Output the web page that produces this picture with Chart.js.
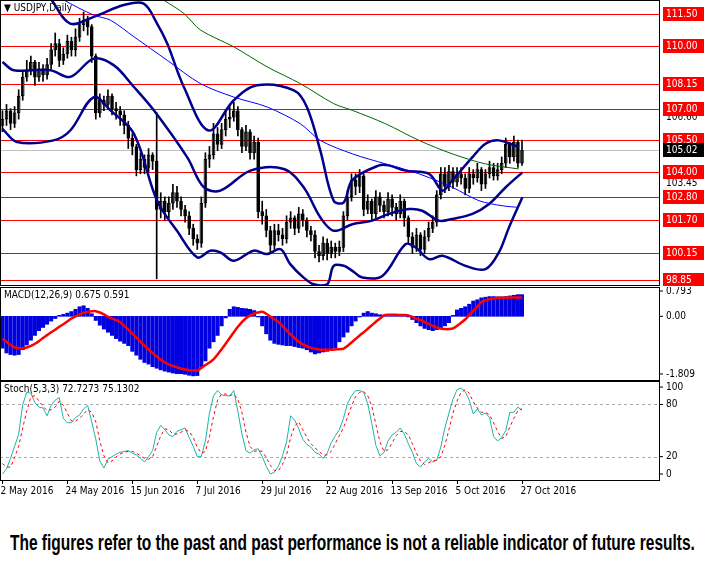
<!DOCTYPE html>
<html>
<head>
<meta charset="utf-8">
<script src="https://cdn.jsdelivr.net/npm/chart.js@4"></script>
<style>
body { margin: 0; background: #fff; width: 704px; height: 583px; overflow: hidden; font-family: "DejaVu Sans", sans-serif; }
.pane { position: absolute; left: 0; width: 704px; }
#foot { position: absolute; left: 10px; top: 530px; white-space: nowrap; transform-origin: 0 0; font: bold 22px "Liberation Sans", Arial, sans-serif; }
</style>
</head>
<body>
<div class="pane" style="top:0;height:286px"><canvas id="mainChart"></canvas></div>
<div class="pane" style="top:287px;height:94px"><canvas id="macdChart"></canvas></div>
<div class="pane" style="top:381px;height:120px"><canvas id="stochChart"></canvas></div>
<div id="foot">The figures refer to the past and past performance is not a reliable indicator of future results.</div>
<script>
// Daily USDJPY bars, index 0 = 2 May 2016
const closes = [106.5,106.9,106.3,106.8,107.6,108.5,108.8,109.2,108.5,108.9,
108.6,109.1,109.8,110.1,109.3,109.6,110.2,109.8,110.4,111.0,
111.2,110.9,109.5,106.8,107.4,107.2,107.6,107.0,106.9,106.7,
106.2,105.6,105.2,104.1,104.6,104.2,104.8,104.5,102.2,102.6,
102.1,102.5,103.0,102.6,102.2,101.9,101.3,100.8,100.6,102.5,
104.6,104.8,105.8,105.3,106.0,106.5,106.6,106.9,106.0,105.2,
105.9,104.9,105.4,102.1,101.9,101.2,100.5,101.2,101.0,100.8,
101.6,101.8,101.3,102.0,101.7,101.2,101.0,100.2,100.0,100.6,
100.1,100.4,100.2,100.4,101.9,102.8,103.6,103.3,103.8,102.2,
102.6,102.0,102.8,102.4,102.1,102.7,102.3,102.0,102.6,101.8,
100.9,100.4,101.0,100.3,100.9,101.3,101.6,102.9,103.9,103.3,
104.0,103.5,103.9,103.7,103.2,103.9,103.7,104.1,103.4,103.9,
104.2,103.8,104.1,104.4,105.3,104.7,105.4,104.4,105.02];
const highs = [106.9,107.2,107.0,107.1,107.9,108.8,109.3,109.5,109.3,109.2,
109.1,109.4,110.1,110.6,110.3,109.9,110.5,110.4,110.8,111.3,
111.6,111.4,111.0,109.6,107.7,107.6,107.9,107.7,107.3,107.1,
106.9,106.4,105.8,105.3,104.9,104.8,105.1,104.9,106.8,103.0,
102.8,102.8,103.4,103.3,102.8,102.4,102.1,101.5,101.0,102.8,
104.9,105.2,106.3,106.1,106.3,106.9,107.1,107.3,107.1,106.1,
106.2,106.0,105.7,105.6,102.6,102.2,101.4,101.5,101.5,101.3,
101.9,102.1,101.9,102.3,102.2,101.8,101.4,101.2,100.5,100.9,
100.8,100.7,100.6,100.7,102.1,103.1,103.9,103.9,104.1,103.9,
102.9,102.7,103.1,103.0,102.6,103.0,102.9,102.5,102.9,102.7,
101.9,101.1,101.3,101.1,101.2,101.6,101.9,103.1,104.2,104.2,
104.3,104.2,104.2,104.2,103.9,104.2,104.1,104.4,104.2,104.1,
104.5,104.4,104.4,104.7,105.6,105.4,105.7,105.5,105.5];
const lows = [105.9,106.2,106.0,106.1,106.5,107.4,108.3,108.6,108.1,108.3,
108.3,108.4,108.9,109.5,109.0,109.1,109.4,109.5,109.5,110.2,
110.7,110.5,109.2,106.5,106.6,106.9,107.0,106.7,106.5,106.2,
105.8,105.1,104.8,103.8,103.9,103.9,104.0,104.1,98.9,101.8,
101.7,101.8,102.2,102.3,101.9,101.6,101.0,100.5,100.3,100.4,
102.3,104.2,104.6,105.0,105.1,105.7,106.1,106.4,105.7,104.9,
105.0,104.6,104.6,101.8,101.5,100.9,100.2,100.3,100.7,100.5,
100.6,101.3,101.0,101.1,101.4,100.9,100.7,99.9,99.7,99.8,
99.8,99.9,99.9,100.0,100.2,101.7,102.6,102.9,103.0,101.9,
102.0,101.7,101.8,102.1,101.8,101.9,101.9,101.7,101.8,101.4,
100.6,100.1,100.2,100.0,100.1,100.7,101.1,101.4,102.7,103.0,
103.1,103.2,103.3,103.4,102.9,103.0,103.4,103.5,103.1,103.2,
103.7,103.6,103.6,103.9,104.2,104.4,104.5,104.2,104.3];
const firstOpen = 106.2;

// Bollinger bands and moving averages: [bar index, price]
const bbUpper = [[12,112.2],[16.7,111.05],[22.5,111.37],[29.9,111.93],[34.8,112.0],[38.1,111.05],[40.6,110.1],[44.7,108.03],[50.8,105.96],[57,107.4],[62.7,108.11],[71.8,107.87],[75,107.08],[78.3,105.01],[81.6,102.62],[84.1,102.54],[86.2,103.6],[92.8,104.3],[95.2,104.3],[99.3,104.05],[105.1,103.9],[108.4,103.1],[110.8,103.58],[115.8,104.69],[119,105.33],[122.3,105.49],[127.2,105.17]];
const bbMiddle = [[0,109.22],[2.8,108.83],[11.8,108.83],[16.7,108.51],[22.5,109.38],[27.4,109.07],[32.4,108.03],[37.3,106.92],[45.5,104.69],[49.6,103.26],[53.7,103.1],[61.1,104.05],[69.3,104.13],[74.2,103.26],[78.3,101.83],[81.6,101.19],[86.2,101.5],[91.1,101.67],[95.2,101.99],[100.2,102.22],[103.4,102.14],[107.5,101.67],[110.8,101.75],[115.8,101.99],[119.9,102.46],[124,103.26],[128.1,103.97]];
const bbLower = [[0,106.04],[3.6,105.41],[12.6,105.49],[16.7,105.96],[22.5,107.55],[26.6,106.92],[32.4,105.8],[38.1,102.62],[43,101.19],[48,99.92],[51.2,100.24],[53.7,100.16],[57,99.76],[61.9,100.24],[65.2,100.08],[68.5,100.31],[70.9,99.6],[74.2,98.96],[76.7,98.64],[80,98.64],[81.6,99.52],[84.1,99.52],[86.2,99.28],[88.7,98.96],[93.6,99.04],[99.3,100.55],[101.8,100.39],[105.1,99.84],[108.4,100.0],[114.1,99.52],[119,99.36],[122.3,100.16],[124.8,101.35],[128.1,102.78]];
const maBlue = [[10,112.8],[15.1,112.17],[22.5,111.45],[26.6,111.21],[32.4,110.42],[40.6,109.3],[48.8,108.19],[57,107.55],[65.2,107.08],[73.4,106.28],[78.3,105.49],[86.2,104.85],[94.4,104.37],[102.6,103.9],[110.8,103.26],[117.4,102.62],[123.1,102.38],[127.2,102.3]];
const maGreen = [[36,112.7],[39.7,112.17],[44.7,111.53],[48.8,110.74],[57,109.94],[65.2,108.99],[73.4,108.19],[81.6,107.24],[86.2,106.92],[94.4,106.28],[102.6,105.49],[110.8,104.85],[119,104.37],[127.2,104.13]];

const levels = [111.50, 110.00, 108.15, 107.00, 105.50, 104.00, 102.80, 101.70, 100.15, 98.85];
const lastPrice = 105.02;
const priceTicks = [106.60, 103.45];

const macdHist = [-1.0,-1.15,-1.2,-1.22,-1.2,-1.05,-0.9,-0.75,-0.6,-0.45,-0.35,-0.25,-0.15,-0.07,0.03,0.06,0.1,0.15,0.22,0.3,0.33,0.25,0.08,-0.13,-0.28,-0.4,-0.5,-0.6,-0.7,-0.78,-0.85,-0.92,-1.1,-1.22,-1.35,-1.45,-1.5,-1.58,-1.63,-1.68,-1.72,-1.75,-1.78,-1.8,-1.8,-1.82,-1.85,-1.87,-1.86,-1.6,-1.4,-1.0,-0.8,-0.6,-0.3,-0.05,0.22,0.3,0.28,0.25,0.24,0.22,0.18,-0.02,-0.3,-0.55,-0.75,-0.85,-0.88,-0.9,-0.92,-0.92,-0.95,-0.98,-1.0,-1.05,-1.12,-1.18,-1.15,-1.12,-1.1,-1.05,-1.0,-0.8,-0.65,-0.5,-0.3,-0.15,-0.02,0.1,0.15,0.1,0.08,0.05,0.04,0.05,0.04,0.03,0.02,0.0,-0.02,-0.1,-0.2,-0.3,-0.38,-0.42,-0.45,-0.42,-0.38,-0.3,-0.2,0.03,0.2,0.25,0.3,0.38,0.48,0.52,0.58,0.6,0.62,0.62,0.61,0.61,0.62,0.64,0.66,0.68,0.68];
const macdSignal = [-0.7,-0.8,-0.9,-0.97,-1.0,-1.0,-0.98,-0.93,-0.86,-0.78,
-0.68,-0.59,-0.5,-0.42,-0.33,-0.25,-0.16,-0.07,0.0,0.06,
0.11,0.14,0.16,0.16,0.12,0.06,-0.01,-0.07,-0.12,-0.18,
-0.3,-0.42,-0.54,-0.67,-0.8,-0.92,-1.04,-1.15,-1.26,-1.36,
-1.45,-1.51,-1.56,-1.6,-1.64,-1.67,-1.69,-1.7,-1.7,-1.62,
-1.53,-1.45,-1.35,-1.2,-1.03,-0.86,-0.68,-0.5,-0.33,-0.18,
-0.06,0.03,0.09,0.12,0.14,0.08,-0.01,-0.09,-0.18,-0.31,
-0.44,-0.57,-0.69,-0.8,-0.88,-0.94,-0.99,-1.02,-1.04,-1.05,
-1.05,-1.05,-1.04,-1.03,-1.02,-0.93,-0.82,-0.71,-0.6,-0.5,
-0.39,-0.28,-0.17,-0.07,0.03,0.05,0.05,0.05,0.04,0.04,
0.03,-0.02,-0.07,-0.12,-0.18,-0.24,-0.3,-0.35,-0.38,-0.4,
-0.4,-0.38,-0.3,-0.2,-0.1,0.04,0.18,0.3,0.45,0.5,
0.54,0.56,0.58,0.58,0.59,0.59,0.59,0.59,0.59];
const macdTicks = [0.793, 0.00, -1.809];

const stochK = [0,6,18,32,46,80,94,93,82,77,76,67,79,85,88,64,59,59,65,68,
75,79,60,40,15,7,17,20,23,25,26,27,24,22,18,14,20,27,48,56,
51,45,43,49,51,53,42,32,20,20,38,70,90,96,91,90,90,96,72,46,
27,24,28,29,20,9,0,2,9,21,37,67,62,52,40,34,31,25,23,18,
24,36,44,51,64,81,90,96,96,94,81,58,33,21,25,38,45,48,53,46,
35,25,12,8,14,18,14,16,31,53,70,86,97,99,95,85,69,75,68,70,
65,43,38,42,50,71,71,77,73];
const stochD = [12,8,8,19,32,53,73,89,90,84,78,73,74,77,84,79,70,61,61,64,
69,74,71,60,38,21,13,15,20,23,25,26,26,24,21,18,17,20,32,44,
52,51,46,46,48,51,49,42,31,24,26,43,66,85,92,92,90,92,86,71,
48,32,26,27,26,19,10,4,4,11,22,42,55,60,51,42,35,30,26,22,
22,26,35,44,53,65,78,89,94,95,90,78,57,37,26,28,36,44,49,49,
45,35,24,15,11,13,15,16,20,33,51,70,84,94,97,93,83,76,71,71,
68,59,49,41,43,54,64,73,75.13];
const stochTicks = [100, 80, 20, 0];

const dateTicks = [0, 16, 32, 48, 64, 80, 96, 112, 128];
const dateLabels = ['2 May 2016','24 May 2016','15 Jun 2016','7 Jul 2016','29 Jul 2016','22 Aug 2016','13 Sep 2016','5 Oct 2016','27 Oct 2016'];

const X_MIN = -0.6, X_MAX = 162;
const AXIS_W = 44;
const tickFont = '10px "DejaVu Sans Condensed", "DejaVu Sans", sans-serif';

const pts = arr => arr.map(p => ({ x: p[0], y: p[1] }));
const series = arr => arr.map((v, i) => ({ x: i, y: v }));
const opens = closes.map((c, i) => i === 0 ? firstOpen : closes[i - 1]);

function xScale() {
  return { type: 'linear', min: X_MIN, max: X_MAX, offset: false, display: false };
}
function yScale(min, max) {
  return {
    type: 'linear', position: 'right', min, max,
    grid: { display: false }, border: { display: false },
    ticks: { display: false },
    afterFit: s => { s.width = AXIS_W; }
  };
}

// frame around the plot area, and the label in the top-left corner
function framePlugin(label) {
  return {
    id: 'frame',
    afterDraw(chart) {
      const { ctx, chartArea: a } = chart;
      ctx.save();
      ctx.strokeStyle = '#000';
      ctx.lineWidth = 1;
      ctx.strokeRect(Math.round(a.left) + 0.5, Math.round(a.top) + 0.5, Math.round(a.right - a.left) - 1, Math.round(a.bottom - a.top) - 1);
      ctx.fillStyle = '#000';
      ctx.font = tickFont;
      ctx.textBaseline = 'top';
      ctx.fillText(label, a.left + 4, a.top + 3);
      ctx.restore();
    }
  };
}

function rightTicks(values, fmt, dashed) {
  return {
    id: 'rightTicks',
    beforeDatasetsDraw(chart) {
      if (!dashed) return;
      const { ctx, chartArea: a, scales: { y } } = chart;
      ctx.save();
      ctx.strokeStyle = '#aaa';
      ctx.setLineDash([3, 3]);
      dashed.forEach(v => {
        const py = Math.round(y.getPixelForValue(v)) + 0.5;
        ctx.beginPath(); ctx.moveTo(a.left, py); ctx.lineTo(a.right, py); ctx.stroke();
      });
      ctx.restore();
    },
    afterDraw(chart) {
      const { ctx, chartArea: a, scales: { y } } = chart;
      ctx.save();
      ctx.font = tickFont;
      ctx.fillStyle = '#000';
      ctx.textBaseline = 'middle';
      values.forEach(v => {
        const py = y.getPixelForValue(v);
        ctx.beginPath(); ctx.moveTo(a.right, py); ctx.lineTo(a.right + 3, py); ctx.stroke();
        ctx.fillText(fmt(v), a.right + 6, py);
      });
      ctx.restore();
    }
  };
}

// price chart
const levelPlugin = {
  id: 'levels',
  beforeDatasetsDraw(chart) {
    const { ctx, chartArea: a, scales: { y } } = chart;
    ctx.save();
    ctx.lineWidth = 1;
    ctx.strokeStyle = '#c0c0c0';
    let py = Math.round(y.getPixelForValue(lastPrice)) + 0.5;
    ctx.beginPath(); ctx.moveTo(a.left, py); ctx.lineTo(a.right, py); ctx.stroke();
    ctx.strokeStyle = '#ff0000';
    levels.forEach(v => {
      py = Math.round(y.getPixelForValue(v)) + 0.5;
      ctx.beginPath(); ctx.moveTo(a.left, py); ctx.lineTo(a.right, py); ctx.stroke();
    });
    ctx.restore();
  },
  afterDraw(chart) {
    const { ctx, chartArea: a, scales: { y } } = chart;
    ctx.save();
    ctx.font = tickFont;
    ctx.textBaseline = 'middle';
    ctx.fillStyle = '#000';
    priceTicks.forEach(v => ctx.fillText(v.toFixed(2), a.right + 6, y.getPixelForValue(v)));
    const box = (v, bg) => {
      const py = Math.round(y.getPixelForValue(v));
      ctx.fillStyle = bg;
      ctx.fillRect(a.right + 3, py - 7, 41, 14);
      ctx.fillStyle = '#fff';
      ctx.fillText(v.toFixed(2), a.right + 6, py + 0.5);
    };
    levels.forEach(v => box(v, '#ff0000'));
    box(lastPrice, '#000');
    ctx.restore();
  }
};

new Chart(document.getElementById('mainChart'), {
  type: 'bar',
  data: {
    datasets: [
      { type: 'line', data: pts(maGreen), borderColor: '#006400', borderWidth: 1, pointRadius: 0, tension: 0.3 },
      { type: 'line', data: pts(maBlue), borderColor: '#0000ff', borderWidth: 1, pointRadius: 0, tension: 0.3 },
      { type: 'line', data: pts(bbUpper), borderColor: '#00008b', borderWidth: 2.5, pointRadius: 0, tension: 0.35 },
      { type: 'line', data: pts(bbMiddle), borderColor: '#00008b', borderWidth: 2.5, pointRadius: 0, tension: 0.35 },
      { type: 'line', data: pts(bbLower), borderColor: '#00008b', borderWidth: 2.5, pointRadius: 0, tension: 0.35 },
      { data: closes.map((c, i) => ({ x: i, y: [lows[i], highs[i]] })), backgroundColor: '#000', barThickness: 1, grouped: false },
      { data: closes.map((c, i) => ({ x: i, y: [opens[i], c] })), grouped: false, barThickness: 3,
        backgroundColor: closes.map((c, i) => c >= opens[i] ? '#fff' : '#000'),
        borderColor: '#000', borderWidth: 1, borderSkipped: false, minBarLength: 1 }
    ]
  },
  options: {
    responsive: true, maintainAspectRatio: false, animation: false,
    layout: { padding: 0 },
    plugins: { legend: { display: false }, tooltip: { enabled: false } },
    scales: { x: xScale(), y: yScale(98.56, 112.17) }
  },
  plugins: [levelPlugin, framePlugin('\u25BC USDJPY,Daily')]
});

new Chart(document.getElementById('macdChart'), {
  type: 'bar',
  data: {
    datasets: [
      { type: 'line', data: series(macdSignal), borderColor: '#ff0000', borderWidth: 2.5, pointRadius: 0, tension: 0.3 },
      { data: series(macdHist), backgroundColor: '#0000e0', barThickness: 3.4 }
    ]
  },
  options: {
    responsive: true, maintainAspectRatio: false, animation: false,
    layout: { padding: 0 },
    plugins: { legend: { display: false }, tooltip: { enabled: false } },
    scales: { x: xScale(), y: yScale(-2.03, 0.92) }
  },
  plugins: [rightTicks(macdTicks, v => v.toFixed(v === 0 ? 2 : 3)), framePlugin('MACD(12,26,9) 0.675 0.591')]
});

const datePlugin = {
  id: 'dates',
  afterDraw(chart) {
    const { ctx, chartArea: a, scales: { x } } = chart;
    ctx.save();
    ctx.font = tickFont;
    ctx.fillStyle = '#000';
    ctx.strokeStyle = '#000';
    ctx.textBaseline = 'top';
    dateTicks.forEach((t, i) => {
      const px = Math.round(x.getPixelForValue(t)) + 0.5;
      ctx.beginPath(); ctx.moveTo(px, a.bottom); ctx.lineTo(px, a.bottom + 3); ctx.stroke();
      ctx.fillText(dateLabels[i], px - 2, a.bottom + 5);
    });
    ctx.restore();
  }
};

new Chart(document.getElementById('stochChart'), {
  type: 'line',
  data: {
    datasets: [
      { data: series(stochD), borderColor: '#ff0000', borderWidth: 1, borderDash: [3, 3], pointRadius: 0 },
      { data: series(stochK), borderColor: '#20b2aa', borderWidth: 1, pointRadius: 0 }
    ]
  },
  options: {
    responsive: true, maintainAspectRatio: false, animation: false,
    layout: { padding: { bottom: 20 } },
    plugins: { legend: { display: false }, tooltip: { enabled: false } },
    scales: { x: xScale(), y: yScale(-8, 107) }
  },
  plugins: [rightTicks(stochTicks, v => String(v), [80, 20]), datePlugin, framePlugin('Stoch(5,3,3) 72.7273 75.1302')]
});

// squeeze the disclaimer into the same width as the reference
const foot = document.getElementById('foot');
foot.style.transform = 'scaleX(' + (685 / foot.offsetWidth) + ')';
</script>
</body>
</html>
